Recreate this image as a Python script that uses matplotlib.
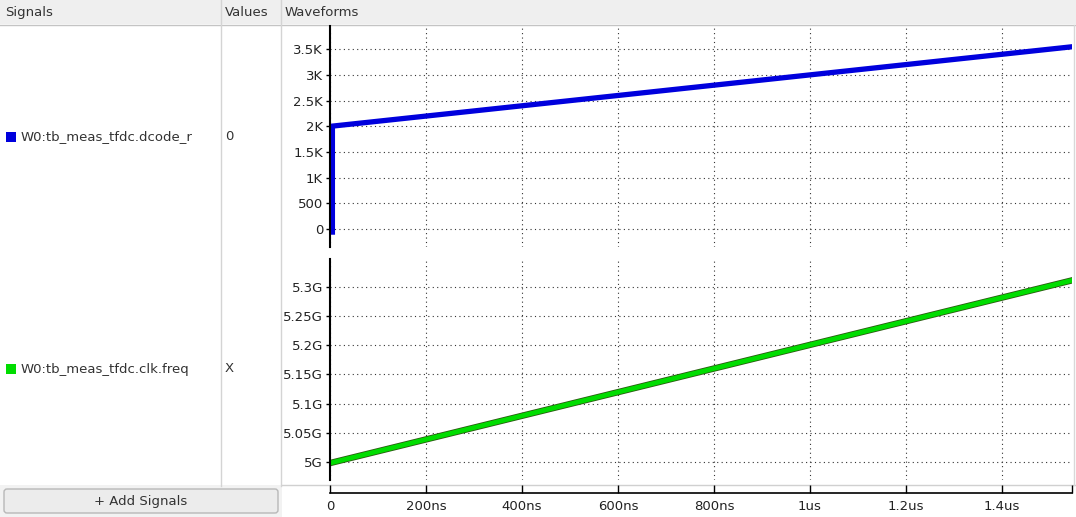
import numpy as np
import matplotlib
matplotlib.use("Agg")
import matplotlib.pyplot as plt
from matplotlib.patches import Rectangle, FancyBboxPatch

# Data ------------------------------------------------------------------------
signal_names = ["W0:tb_meas_tfdc.dcode_r", "W0:tb_meas_tfdc.clk.freq"]
signal_values = ["0", "X"]
signal_colors = ["#0000dd", "#00dd00"]

# dcode_r counter [counts] vs time [ns]
dcode_t = [5, 5, 1546]
dcode_v = [-60, 2002, 3546]

# clk.freq [GHz] vs time [ns]
freq_t = [0, 1546]
freq_v = [4.998, 5.311]

time_ticks = [0, 200, 400, 600, 800, 1000, 1200, 1400]
time_labels = ["0", "200ns", "400ns", "600ns", "800ns", "1us", "1.2us", "1.4us"]

dcode_ticks = [0, 500, 1000, 1500, 2000, 2500, 3000, 3500]
dcode_labels = ["0", "500", "1K", "1.5K", "2K", "2.5K", "3K", "3.5K"]

freq_ticks = [5.0, 5.05, 5.1, 5.15, 5.2, 5.25, 5.3]
freq_labels = ["5G", "5.05G", "5.1G", "5.15G", "5.2G", "5.25G", "5.3G"]

# Figure setup ----------------------------------------------------------------
W, H = 1076, 517
plt.rcParams['font.family'] = ['DejaVu Sans']
fs = 9.5
fig = plt.figure(figsize=(W / 100, H / 100), dpi=100)

def px_axes(x0, y0, x1, y1):
    """Axes from pixel box (top-left origin)."""
    return fig.add_axes([x0 / W, 1 - y1 / H, (x1 - x0) / W, (y1 - y0) / H])

# Background overlay in pixel coordinates
bg = fig.add_axes([0, 0, 1, 1])
bg.set_xlim(0, W)
bg.set_ylim(H, 0)
bg.axis("off")

# header band
bg.add_patch(Rectangle((0, 0), W, 24, color="#efefef", lw=0))
bg.plot([0, W], [24.5, 24.5], color="#c4c4c4", lw=1)
for x in (220.5, 280.5):
    bg.plot([x, x], [0, 486], color="#d4d4d4", lw=1)
bg.text(5, 12.5, "Signals", fontsize=fs, va="center", ha="left", color="#333333")
bg.text(225, 12.5, "Values", fontsize=fs, va="center", ha="left", color="#333333")
bg.text(285, 12.5, "Waveforms", fontsize=fs, va="center", ha="left", color="#333333")

# bottom strip / button
bg.add_patch(Rectangle((0, 485), 282, H - 485, color="#f2f2f2", lw=0))
bg.plot([282, W], [485, 485], color="#d0d0d0", lw=1)
bg.add_patch(FancyBboxPatch((4, 489), 274, 24, boxstyle="round,pad=0,rounding_size=3",
                            fc="#ececec", ec="#b8b8b8", lw=1))
bg.text(141, 501, "+ Add Signals", fontsize=fs, va="center", ha="center", color="#333333")
bg.plot([1073.5, 1073.5], [25, 485], color="#d8d8d8", lw=1)

# signal name rows
row_y = [137, 369]
for name, val, col, y in zip(signal_names, signal_values, signal_colors, row_y):
    bg.add_patch(Rectangle((6, y - 5), 10, 10, color=col, lw=0))
    bg.text(21, y, name, fontsize=fs, va="center", ha="left", color="#333333")
    bg.text(225, y, val, fontsize=fs, va="center", ha="left", color="#333333")

grid_kw = dict(color="#333333", lw=0.8, linestyle=(0, (1, 3)))

def style_wave(ax, ticks, labels):
    for s in ("top", "right", "bottom"):
        ax.spines[s].set_visible(False)
    ax.spines["left"].set_linewidth(1.5)
    ax.set_yticks(ticks)
    ax.set_yticklabels(labels, fontsize=fs, color="#222222")
    ax.set_xticks(time_ticks)
    ax.tick_params(axis="x", bottom=False, labelbottom=False)
    ax.tick_params(axis="y", length=3, width=1, pad=2)
    ax.grid(True, **grid_kw)
    ax.set_xlim(0, 1546)
    ax.patch.set_alpha(0)

# Upper waveform: dcode_r -----------------------------------------------------
ax1 = px_axes(330, 26, 1072, 247)
ax1.plot(dcode_t, dcode_v, color=signal_colors[0], lw=3.8, solid_joinstyle="miter")
ax1.set_ylim(-350, 3950)
style_wave(ax1, dcode_ticks, dcode_labels)

# Lower waveform: clk.freq ----------------------------------------------------
ax2 = px_axes(330, 259, 1072, 480)
ax2.plot(freq_t, freq_v, color="#2a5a10", lw=4.6)
ax2.plot(freq_t, freq_v, color=signal_colors[1], lw=3.4)
ax2.set_ylim(4.969, 5.3476)
style_wave(ax2, freq_ticks, freq_labels)

# Time axis -------------------------------------------------------------------
axt = px_axes(330, 487, 1072, 493)
for s in ("top", "right", "left"):
    axt.spines[s].set_visible(False)
axt.spines["bottom"].set_linewidth(1.2)
axt.set_xlim(0, 1546)
axt.set_yticks([])
axt.set_xticks(time_ticks + [1546])
axt.set_xticklabels(time_labels + [""], fontsize=fs, color="#222222")
axt.tick_params(axis="x", direction="in", length=6, width=1, pad=5)
axt.patch.set_alpha(0)

fig.savefig("out.png", dpi=100)
